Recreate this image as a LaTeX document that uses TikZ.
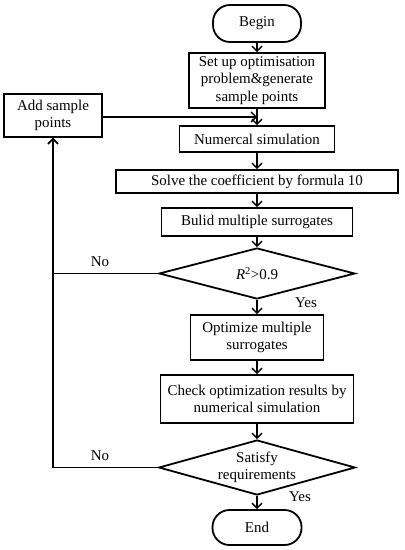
\documentclass[tikz,border=0pt]{standalone}
\usepackage{fontspec}
\setmainfont{Liberation Serif}
\usetikzlibrary{shapes.geometric,arrows.meta}
\begin{document}
\begin{tikzpicture}[x=1bp,y=-1bp,
  every node/.style={font=\fontsize{15}{17.5}\selectfont},
  box/.style={draw,line width=1.8pt,inner sep=0pt,align=center},
  term/.style={box,rounded corners=17bp},
  dec/.style={draw,line width=1.8pt,diamond,inner sep=0pt,aspect=3.8,align=center},
  arr/.style={line width=1.4pt,-{Straight Barb[length=5bp,width=10bp,line width=1.4pt]}},
  lbl/.style={inner sep=0pt}]
\useasboundingbox (0,0) rectangle (404,550);
\node[term,minimum width=88bp,minimum height=37bp] (begin) at (257,23.5) {Begin};
\node[box,minimum width=136bp,minimum height=55bp] (setup) at (257,80.5) {Set up optimisation\\problem\&generate\\sample points};
\node[box,minimum width=98bp,minimum height=43bp] (add) at (53,115.5) {Add sample\\points};
\node[box,minimum width=155bp,minimum height=26bp] (num) at (257,139) {Numercal simulation};
\node[box,minimum width=282bp,minimum height=23bp] (solve) at (257,181.5) {Solve the coefficient by formula 10};
\node[box,minimum width=191bp,minimum height=28bp] (build) at (257,222) {Bulid multiple surrogates};
\node[dec,minimum width=196bp,minimum height=51bp] (d1) at (257,273.5) {\textit{R}\textsuperscript{2}>0.9};
\node[box,minimum width=133bp,minimum height=45bp] (opt) at (257,337.5) {Optimize multiple\\surrogates};
\node[box,minimum width=193bp,minimum height=48bp] (check) at (257,399) {Check optimization results by\\numerical simulation};
\node[dec,minimum width=192bp,minimum height=55bp] (d2) at (257,467.5) {Satisfy\\requirements};
\node[term,minimum width=89bp,minimum height=35bp] (end) at (257,527.5) {End};
\coordinate (join) at (257,117);
\draw[arr] (begin) -- (setup);
\draw[arr] (setup) -- (num);
\draw[arr] (add.east |- join) -- (join);
\draw[arr] (num) -- (solve);
\draw[arr] (solve) -- (build);
\draw[arr] (build) -- (d1);
\draw[arr] (d1) -- (opt);
\draw[arr] (opt) -- (check);
\draw[arr] (check) -- (d2);
\draw[arr] (d2) -- (end);
\draw[arr] (d1.west) -| (add.south);
\draw[arr] (d2.west) -| (add.south);
\node[lbl] (no1) at (100,262) {No};
\node[lbl] (no2) at (100,456) {No};
\node[lbl] (yes1) at (306,303) {Yes};
\node[lbl] (yes2) at (300,497) {Yes};
\end{tikzpicture}
\end{document}
